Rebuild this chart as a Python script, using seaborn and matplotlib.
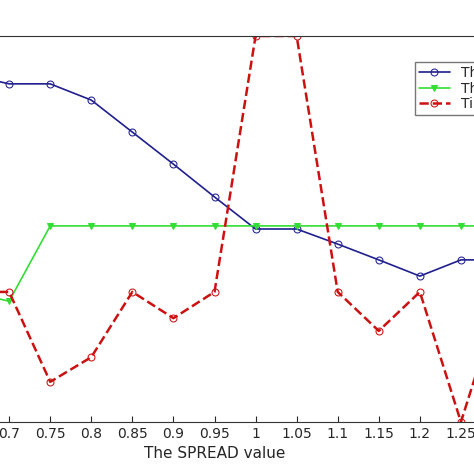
import matplotlib
matplotlib.use("Agg")
import matplotlib.pyplot as plt
import seaborn as sns
import pandas as pd

spread = [0.65, 0.7, 0.75, 0.8, 0.85, 0.9, 0.95, 1.0, 1.05, 1.1, 1.15, 1.2, 1.25, 1.3]
train_err = [0.90, 0.876, 0.876, 0.834, 0.751, 0.668, 0.583, 0.500, 0.500, 0.461, 0.420, 0.378, 0.420, 0.420]
test_err = [0.337, 0.313, 0.508, 0.508, 0.508, 0.508, 0.508, 0.508, 0.508, 0.508, 0.508, 0.508, 0.508, 0.508]
time_val = [0.337, 0.337, 0.104, 0.168, 0.337, 0.269, 0.337, 1.0, 1.0, 0.337, 0.236, 0.337, 0.0, 0.337]
labels = ["The training error", "The testing error", "Time"]

sns.set_style("white")
plt.rcParams['font.family'] = ['DejaVu Sans']
fig = plt.figure(figsize=(4.74, 4.74), dpi=100)
ax = fig.add_axes([-73/474, 52/474, 575/474, 386/474])

df = pd.DataFrame({"x": spread, "a": train_err, "b": test_err, "c": time_val})
sns.lineplot(data=df, x="x", y="a", ax=ax, color="#1f1f8f", marker="o", markersize=5,
             markerfacecolor="none", markeredgecolor="#1f1f8f", lw=1.2, label=labels[0])
sns.lineplot(data=df, x="x", y="b", ax=ax, color="#33dd33", marker="v", markersize=5,
             markeredgecolor="#33dd33", lw=1.2, label=labels[1])
sns.lineplot(data=df, x="x", y="c", ax=ax, color="#cc1111", marker="o", markersize=5,
             markerfacecolor="none", markeredgecolor="#cc1111", lw=1.8, ls="--", label=labels[2])

ax.set_xlim(0.6, 1.3)
ax.set_ylim(0, 1)
ax.set_xticks([0.65, 0.7, 0.75, 0.8, 0.85, 0.9, 0.95, 1.0, 1.05, 1.1, 1.15, 1.2, 1.25])
ax.set_xticklabels(["0.65", "0.7", "0.75", "0.8", "0.85", "0.9", "0.95", "1", "1.05", "1.1", "1.15", "1.2", "1.25"], fontsize=10)
ax.set_yticks([])
ax.tick_params(axis='x', direction='in', length=4, bottom=True)
ax.set_xlabel("The SPREAD value", fontsize=11)
ax.set_ylabel("")
for s in ax.spines.values():
    s.set_color("#333333")
    s.set_linewidth(0.8)
ax.legend(loc="upper left", bbox_to_anchor=(408/474, 1 - 55/474), bbox_transform=fig.transFigure,
          fontsize=10, frameon=True, fancybox=False, edgecolor="#555555", handlelength=2.2,
          borderpad=0.3, labelspacing=0.1)
fig.savefig("out.png", dpi=100)
